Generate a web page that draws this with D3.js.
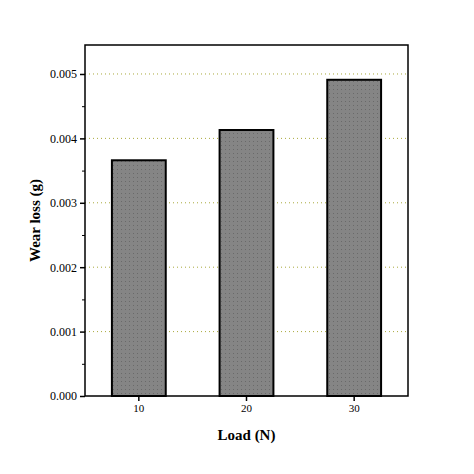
<!DOCTYPE html>
<html><head><meta charset="utf-8">
<script src="https://cdn.jsdelivr.net/npm/d3@7"></script>
<style>body{margin:0;background:#fff}</style>
</head><body>
<svg id="c" width="474" height="474"></svg>
<script>
const loads = ['10', '20', '30'];
const wearLoss = [0.00366, 0.00413, 0.00491];
const yTicks = [0, 0.001, 0.002, 0.003, 0.004, 0.005];

const svg = d3.select('#c');
const m = { l: 85, r: 408, t: 45, b: 396 };
const font = 'Liberation Serif, Times New Roman, serif';

const x = d3.scaleBand().domain(loads).range([m.l, m.r]).paddingInner(0.5).paddingOuter(0.25);
const y = d3.scaleLinear().domain([0, 0.00545]).range([m.b, m.t]);

// grid
svg.append('g').selectAll('line').data(yTicks.slice(1)).join('line')
  .attr('x1', m.l).attr('x2', m.r).attr('y1', d => y(d)).attr('y2', d => y(d))
  .attr('stroke', '#a9a93c').attr('stroke-width', 1).attr('stroke-dasharray', '1,3');

// pattern
const defs = svg.append('defs');
const pat = defs.append('pattern').attr('id', 'dots').attr('width', 4).attr('height', 4).attr('patternUnits', 'userSpaceOnUse');
pat.append('rect').attr('width', 4).attr('height', 4).attr('fill', '#858585');
pat.append('rect').attr('x', 1).attr('y', 1).attr('width', 1).attr('height', 1).attr('fill', '#6a6a6a');

svg.append('g').selectAll('rect').data(loads).join('rect')
  .attr('x', d => x(d)).attr('width', x.bandwidth())
  .attr('y', (d, i) => y(wearLoss[i])).attr('height', (d, i) => m.b - y(wearLoss[i]))
  .attr('fill', 'url(#dots)').attr('stroke', '#000').attr('stroke-width', 2);

// frame
svg.append('rect').attr('x', m.l).attr('y', m.t).attr('width', m.r - m.l).attr('height', m.b - m.t)
  .attr('fill', 'none').attr('stroke', '#000').attr('stroke-width', 1.5);

const ya = svg.append('g').attr('transform', `translate(${m.l},0)`)
  .call(d3.axisLeft(y).tickValues(yTicks).tickFormat(d3.format('.3f')).tickSize(5));
ya.select('.domain').remove();
ya.selectAll('line').attr('stroke-width', 1.5);
ya.selectAll('text').attr('font-family', font).attr('font-size', 12).attr('fill', '#000');
svg.append('g').attr('transform', `translate(${m.l},0)`)
  .call(d3.axisLeft(y).tickValues(yTicks.slice(0, -1).map(v => v + 0.0005).concat([0.0055]).filter(v => v < 0.00545)).tickFormat('').tickSize(3))
  .call(g => g.select('.domain').remove());

const xa = svg.append('g').attr('transform', `translate(0,${m.b})`)
  .call(d3.axisBottom(x).tickSize(5));
xa.select('.domain').remove();
xa.selectAll('line').attr('stroke-width', 1.5);
xa.selectAll('text').attr('font-family', font).attr('font-size', 11).attr('fill', '#000');

svg.append('text').attr('x', (m.l + m.r) / 2).attr('y', 440).attr('text-anchor', 'middle')
  .attr('font-family', font).attr('font-weight', 'bold').attr('font-size', 15).text('Load (N)');
svg.append('text').attr('transform', `translate(40,${(m.t + m.b) / 2}) rotate(-90)`).attr('text-anchor', 'middle')
  .attr('font-family', font).attr('font-weight', 'bold').attr('font-size', 15).text('Wear loss (g)');
</script>
</body></html>
